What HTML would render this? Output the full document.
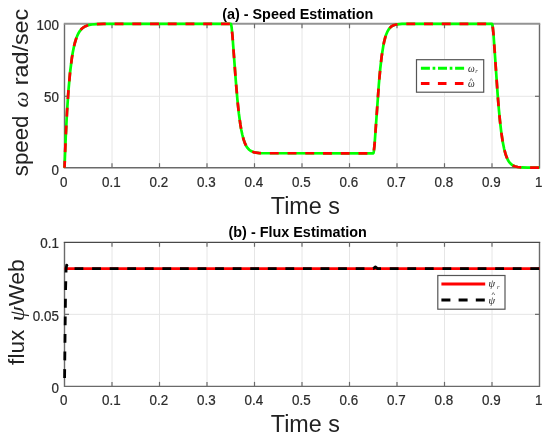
<!DOCTYPE html>
<html><head><meta charset="utf-8"><title>Speed and Flux Estimation</title>
<style>
html,body{margin:0;padding:0;background:#fff;}
body{width:550px;height:443px;overflow:hidden;}
svg{display:block;}
text{fill:#262626;font-family:'Liberation Sans', Arial, Helvetica, sans-serif;}
.tk{font-size:13.4px;fill:#2b2b2b;stroke:#2b2b2b;stroke-width:0.22px;}
.ti{font-size:14.4px;font-weight:bold;fill:#000;}
.lb{font-size:23.3px;fill:#222;}
.yl{font-size:22px;fill:#222;}
.gk{font-family:'Liberation Serif', 'DejaVu Serif', serif;font-style:italic;}
.lg{font-family:'Liberation Serif', 'DejaVu Serif', serif;font-style:italic;font-size:9.5px;fill:#222;}
.sub{font-family:'Liberation Serif', 'DejaVu Serif', serif;font-style:italic;font-size:6.5px;fill:#333;}
.psi{font-size:10.5px;fill:#111;}
.hat{font-family:'Liberation Sans',sans-serif;font-size:7.5px;fill:#333;}
</style></head>
<body>
<svg width="550" height="443" viewBox="0 0 550 443">
<rect width="550" height="443" fill="#fff"/>
<line x1="112.00" y1="23.80" x2="112.00" y2="167.70" stroke="#e6e6e6" stroke-width="1"/>
<line x1="159.50" y1="23.80" x2="159.50" y2="167.70" stroke="#e6e6e6" stroke-width="1"/>
<line x1="207.00" y1="23.80" x2="207.00" y2="167.70" stroke="#e6e6e6" stroke-width="1"/>
<line x1="254.50" y1="23.80" x2="254.50" y2="167.70" stroke="#e6e6e6" stroke-width="1"/>
<line x1="302.00" y1="23.80" x2="302.00" y2="167.70" stroke="#e6e6e6" stroke-width="1"/>
<line x1="349.50" y1="23.80" x2="349.50" y2="167.70" stroke="#e6e6e6" stroke-width="1"/>
<line x1="397.00" y1="23.80" x2="397.00" y2="167.70" stroke="#e6e6e6" stroke-width="1"/>
<line x1="444.50" y1="23.80" x2="444.50" y2="167.70" stroke="#e6e6e6" stroke-width="1"/>
<line x1="492.00" y1="23.80" x2="492.00" y2="167.70" stroke="#e6e6e6" stroke-width="1"/>
<line x1="64.50" y1="96.30" x2="539.50" y2="96.30" stroke="#e6e6e6" stroke-width="1"/>
<line x1="112.00" y1="242.30" x2="112.00" y2="386.40" stroke="#e6e6e6" stroke-width="1"/>
<line x1="159.50" y1="242.30" x2="159.50" y2="386.40" stroke="#e6e6e6" stroke-width="1"/>
<line x1="207.00" y1="242.30" x2="207.00" y2="386.40" stroke="#e6e6e6" stroke-width="1"/>
<line x1="254.50" y1="242.30" x2="254.50" y2="386.40" stroke="#e6e6e6" stroke-width="1"/>
<line x1="302.00" y1="242.30" x2="302.00" y2="386.40" stroke="#e6e6e6" stroke-width="1"/>
<line x1="349.50" y1="242.30" x2="349.50" y2="386.40" stroke="#e6e6e6" stroke-width="1"/>
<line x1="397.00" y1="242.30" x2="397.00" y2="386.40" stroke="#e6e6e6" stroke-width="1"/>
<line x1="444.50" y1="242.30" x2="444.50" y2="386.40" stroke="#e6e6e6" stroke-width="1"/>
<line x1="492.00" y1="242.30" x2="492.00" y2="386.40" stroke="#e6e6e6" stroke-width="1"/>
<line x1="64.50" y1="314.35" x2="539.50" y2="314.35" stroke="#e6e6e6" stroke-width="1"/>
<path d="M64.50,23.80 V167.70 H539.50 V23.80" fill="none" stroke="#6a6a6a" stroke-width="1.4"/>
<line x1="63.80" y1="23.80" x2="540.20" y2="23.80" stroke="#939393" stroke-width="2.0"/>
<line x1="112.00" y1="167.70" x2="112.00" y2="163.20" stroke="#6a6a6a" stroke-width="1.2"/>
<line x1="112.00" y1="23.80" x2="112.00" y2="28.30" stroke="#6a6a6a" stroke-width="1.2"/>
<line x1="159.50" y1="167.70" x2="159.50" y2="163.20" stroke="#6a6a6a" stroke-width="1.2"/>
<line x1="159.50" y1="23.80" x2="159.50" y2="28.30" stroke="#6a6a6a" stroke-width="1.2"/>
<line x1="207.00" y1="167.70" x2="207.00" y2="163.20" stroke="#6a6a6a" stroke-width="1.2"/>
<line x1="207.00" y1="23.80" x2="207.00" y2="28.30" stroke="#6a6a6a" stroke-width="1.2"/>
<line x1="254.50" y1="167.70" x2="254.50" y2="163.20" stroke="#6a6a6a" stroke-width="1.2"/>
<line x1="254.50" y1="23.80" x2="254.50" y2="28.30" stroke="#6a6a6a" stroke-width="1.2"/>
<line x1="302.00" y1="167.70" x2="302.00" y2="163.20" stroke="#6a6a6a" stroke-width="1.2"/>
<line x1="302.00" y1="23.80" x2="302.00" y2="28.30" stroke="#6a6a6a" stroke-width="1.2"/>
<line x1="349.50" y1="167.70" x2="349.50" y2="163.20" stroke="#6a6a6a" stroke-width="1.2"/>
<line x1="349.50" y1="23.80" x2="349.50" y2="28.30" stroke="#6a6a6a" stroke-width="1.2"/>
<line x1="397.00" y1="167.70" x2="397.00" y2="163.20" stroke="#6a6a6a" stroke-width="1.2"/>
<line x1="397.00" y1="23.80" x2="397.00" y2="28.30" stroke="#6a6a6a" stroke-width="1.2"/>
<line x1="444.50" y1="167.70" x2="444.50" y2="163.20" stroke="#6a6a6a" stroke-width="1.2"/>
<line x1="444.50" y1="23.80" x2="444.50" y2="28.30" stroke="#6a6a6a" stroke-width="1.2"/>
<line x1="492.00" y1="167.70" x2="492.00" y2="163.20" stroke="#6a6a6a" stroke-width="1.2"/>
<line x1="492.00" y1="23.80" x2="492.00" y2="28.30" stroke="#6a6a6a" stroke-width="1.2"/>
<line x1="64.50" y1="96.30" x2="69.00" y2="96.30" stroke="#6a6a6a" stroke-width="1.2"/>
<line x1="539.50" y1="96.30" x2="535.00" y2="96.30" stroke="#6a6a6a" stroke-width="1.2"/>
<path d="M64.50,242.30 V386.40 H539.50 V242.30" fill="none" stroke="#6a6a6a" stroke-width="1.4"/>
<line x1="63.80" y1="242.30" x2="540.20" y2="242.30" stroke="#484848" stroke-width="1.2"/>
<line x1="112.00" y1="386.40" x2="112.00" y2="381.90" stroke="#6a6a6a" stroke-width="1.2"/>
<line x1="112.00" y1="242.30" x2="112.00" y2="246.80" stroke="#6a6a6a" stroke-width="1.2"/>
<line x1="159.50" y1="386.40" x2="159.50" y2="381.90" stroke="#6a6a6a" stroke-width="1.2"/>
<line x1="159.50" y1="242.30" x2="159.50" y2="246.80" stroke="#6a6a6a" stroke-width="1.2"/>
<line x1="207.00" y1="386.40" x2="207.00" y2="381.90" stroke="#6a6a6a" stroke-width="1.2"/>
<line x1="207.00" y1="242.30" x2="207.00" y2="246.80" stroke="#6a6a6a" stroke-width="1.2"/>
<line x1="254.50" y1="386.40" x2="254.50" y2="381.90" stroke="#6a6a6a" stroke-width="1.2"/>
<line x1="254.50" y1="242.30" x2="254.50" y2="246.80" stroke="#6a6a6a" stroke-width="1.2"/>
<line x1="302.00" y1="386.40" x2="302.00" y2="381.90" stroke="#6a6a6a" stroke-width="1.2"/>
<line x1="302.00" y1="242.30" x2="302.00" y2="246.80" stroke="#6a6a6a" stroke-width="1.2"/>
<line x1="349.50" y1="386.40" x2="349.50" y2="381.90" stroke="#6a6a6a" stroke-width="1.2"/>
<line x1="349.50" y1="242.30" x2="349.50" y2="246.80" stroke="#6a6a6a" stroke-width="1.2"/>
<line x1="397.00" y1="386.40" x2="397.00" y2="381.90" stroke="#6a6a6a" stroke-width="1.2"/>
<line x1="397.00" y1="242.30" x2="397.00" y2="246.80" stroke="#6a6a6a" stroke-width="1.2"/>
<line x1="444.50" y1="386.40" x2="444.50" y2="381.90" stroke="#6a6a6a" stroke-width="1.2"/>
<line x1="444.50" y1="242.30" x2="444.50" y2="246.80" stroke="#6a6a6a" stroke-width="1.2"/>
<line x1="492.00" y1="386.40" x2="492.00" y2="381.90" stroke="#6a6a6a" stroke-width="1.2"/>
<line x1="492.00" y1="242.30" x2="492.00" y2="246.80" stroke="#6a6a6a" stroke-width="1.2"/>
<line x1="64.50" y1="314.35" x2="69.00" y2="314.35" stroke="#6a6a6a" stroke-width="1.2"/>
<line x1="539.50" y1="314.35" x2="535.00" y2="314.35" stroke="#6a6a6a" stroke-width="1.2"/>
<path d="M64.50,167.70 L65.69,137.96 L66.99,112.30 L68.42,90.84 L70.08,72.28 L71.86,58.06 L72.81,52.27 L73.76,47.45 L74.83,43.01 L76.02,39.04 L77.33,35.61 L78.63,32.96 L79.82,31.06 L81.01,29.56 L82.31,28.27 L83.86,27.11 L85.52,26.19 L87.30,25.49 L89.44,24.91 L91.81,24.50 L96.68,24.07 L103.81,23.87 L145.13,23.80 L230.87,23.88 L231.22,24.97 L231.58,27.14 L232.41,35.21 L235.74,80.15 L237.40,99.73 L238.82,113.20 L240.37,124.51 L241.32,129.99 L242.39,135.02 L243.57,139.43 L244.76,142.84 L246.07,145.67 L247.49,147.92 L249.16,149.74 L251.06,151.10 L253.31,152.07 L256.04,152.70 L259.49,153.06 L264.36,153.24 L373.25,153.31 L373.49,152.96 L373.84,151.26 L374.56,144.75 L378.83,84.50 L380.26,68.63 L381.68,56.25 L383.34,45.64 L384.29,41.09 L385.24,37.43 L386.31,34.17 L387.38,31.66 L388.57,29.55 L389.88,27.86 L390.83,26.94 L391.89,26.15 L393.08,25.50 L394.39,24.98 L397.59,24.28 L401.99,23.94 L413.27,23.81 L492.00,23.80 L492.36,24.53 L492.71,26.52 L493.54,34.71 L497.58,93.64 L498.77,108.46 L499.96,120.96 L501.26,132.13 L502.69,141.62 L504.11,148.77 L505.78,154.81 L506.61,157.10 L507.56,159.25 L508.51,160.98 L509.46,162.37 L510.52,163.60 L511.71,164.64 L513.02,165.50 L514.56,166.21 L517.65,167.02 L521.81,167.47 L527.74,167.65 L539.50,167.70" fill="none" stroke="#00ff00" stroke-width="2.7" stroke-linejoin="round"/>
<path d="M64.50,167.70 L65.69,137.96 L66.99,112.30 L68.42,90.84 L70.08,72.28 L71.86,58.06 L72.81,52.27 L73.76,47.45 L74.83,43.01 L76.02,39.04 L77.33,35.61 L78.63,32.96 L79.82,31.06 L81.01,29.56 L82.31,28.27 L83.86,27.11 L85.52,26.19 L87.30,25.49 L89.44,24.91 L91.81,24.50 L96.68,24.07 L103.81,23.87 L145.13,23.80 L230.87,23.88 L231.22,24.97 L231.58,27.14 L232.41,35.21 L235.74,80.15 L237.40,99.73 L238.82,113.20 L240.37,124.51 L241.32,129.99 L242.39,135.02 L243.57,139.43 L244.76,142.84 L246.07,145.67 L247.49,147.92 L249.16,149.74 L251.06,151.10 L253.31,152.07 L256.04,152.70 L259.49,153.06 L264.36,153.24 L373.25,153.31 L373.49,152.96 L373.84,151.26 L374.56,144.75 L378.83,84.50 L380.26,68.63 L381.68,56.25 L383.34,45.64 L384.29,41.09 L385.24,37.43 L386.31,34.17 L387.38,31.66 L388.57,29.55 L389.88,27.86 L390.83,26.94 L391.89,26.15 L393.08,25.50 L394.39,24.98 L397.59,24.28 L401.99,23.94 L413.27,23.81 L492.00,23.80 L492.36,24.53 L492.71,26.52 L493.54,34.71 L497.58,93.64 L498.77,108.46 L499.96,120.96 L501.26,132.13 L502.69,141.62 L504.11,148.77 L505.78,154.81 L506.61,157.10 L507.56,159.25 L508.51,160.98 L509.46,162.37 L510.52,163.60 L511.71,164.64 L513.02,165.50 L514.56,166.21 L517.65,167.02 L521.81,167.47 L527.74,167.65 L539.50,167.70" fill="none" stroke="#ff0000" stroke-width="2.7" stroke-dasharray="8.9 8.83" stroke-dashoffset="2.1" stroke-linejoin="round"/>
<path d="M64.50,268.53 L539.50,268.53" fill="none" stroke="#ff0000" stroke-width="2.7"/>
<path d="M64.50,386.40 L64.97,343.17 L65.55,291.29 L66.11,268.96 L66.69,265.07 L67.35,266.80 L68.30,268.53 L373.25,268.53 L375.39,266.94 L377.53,268.53 L539.50,268.53" fill="none" stroke="#000000" stroke-width="2.8" stroke-dasharray="8.8 8.77" stroke-dashoffset="9.10" stroke-linejoin="round"/>
<text transform="translate(63.80,186.70) scale(1,1.09)" text-anchor="middle" class="tk">0</text>
<text transform="translate(111.30,186.70) scale(1,1.09)" text-anchor="middle" class="tk">0.1</text>
<text transform="translate(158.80,186.70) scale(1,1.09)" text-anchor="middle" class="tk">0.2</text>
<text transform="translate(206.30,186.70) scale(1,1.09)" text-anchor="middle" class="tk">0.3</text>
<text transform="translate(253.80,186.70) scale(1,1.09)" text-anchor="middle" class="tk">0.4</text>
<text transform="translate(301.30,186.70) scale(1,1.09)" text-anchor="middle" class="tk">0.5</text>
<text transform="translate(348.80,186.70) scale(1,1.09)" text-anchor="middle" class="tk">0.6</text>
<text transform="translate(396.30,186.70) scale(1,1.09)" text-anchor="middle" class="tk">0.7</text>
<text transform="translate(443.80,186.70) scale(1,1.09)" text-anchor="middle" class="tk">0.8</text>
<text transform="translate(491.30,186.70) scale(1,1.09)" text-anchor="middle" class="tk">0.9</text>
<text transform="translate(538.80,186.70) scale(1,1.09)" text-anchor="middle" class="tk">1</text>
<text transform="translate(58.90,174.65) scale(1,1.09)" text-anchor="end" class="tk">0</text>
<text transform="translate(58.90,102.15) scale(1,1.09)" text-anchor="end" class="tk">50</text>
<text transform="translate(58.90,30.05) scale(1,1.09)" text-anchor="end" class="tk">100</text>
<text transform="translate(63.80,405.40) scale(1,1.09)" text-anchor="middle" class="tk">0</text>
<text transform="translate(111.30,405.40) scale(1,1.09)" text-anchor="middle" class="tk">0.1</text>
<text transform="translate(158.80,405.40) scale(1,1.09)" text-anchor="middle" class="tk">0.2</text>
<text transform="translate(206.30,405.40) scale(1,1.09)" text-anchor="middle" class="tk">0.3</text>
<text transform="translate(253.80,405.40) scale(1,1.09)" text-anchor="middle" class="tk">0.4</text>
<text transform="translate(301.30,405.40) scale(1,1.09)" text-anchor="middle" class="tk">0.5</text>
<text transform="translate(348.80,405.40) scale(1,1.09)" text-anchor="middle" class="tk">0.6</text>
<text transform="translate(396.30,405.40) scale(1,1.09)" text-anchor="middle" class="tk">0.7</text>
<text transform="translate(443.80,405.40) scale(1,1.09)" text-anchor="middle" class="tk">0.8</text>
<text transform="translate(491.30,405.40) scale(1,1.09)" text-anchor="middle" class="tk">0.9</text>
<text transform="translate(538.80,405.40) scale(1,1.09)" text-anchor="middle" class="tk">1</text>
<text transform="translate(58.90,393.05) scale(1,1.09)" text-anchor="end" class="tk">0</text>
<text transform="translate(58.90,320.65) scale(1,1.09)" text-anchor="end" class="tk">0.05</text>
<text transform="translate(58.90,248.35) scale(1,1.09)" text-anchor="end" class="tk">0.1</text>
<text x="297.7" y="18.5" text-anchor="middle" class="ti">(a) - Speed Estimation</text>
<text x="297.7" y="236.6" text-anchor="middle" class="ti">(b) - Flux Estimation</text>
<text x="305.3" y="214.1" text-anchor="middle" class="lb">Time s</text>
<text x="305.3" y="432.1" text-anchor="middle" class="lb">Time s</text>
<text transform="translate(27.60,176.20) rotate(-90)" class="yl" textLength="60.60" lengthAdjust="spacingAndGlyphs">speed</text>
<text transform="translate(27.60,107.60) rotate(-90)" class="yl gk" textLength="16.00" lengthAdjust="spacingAndGlyphs">ω</text>
<text transform="translate(27.60,85.30) rotate(-90)" class="yl" textLength="76.50" lengthAdjust="spacingAndGlyphs">rad/sec</text>
<text transform="translate(23.80,364.90) rotate(-90)" class="yl" textLength="35.20" lengthAdjust="spacingAndGlyphs">flux</text>
<text transform="translate(23.80,321.20) rotate(-90)" class="yl gk" textLength="15.00" lengthAdjust="spacingAndGlyphs">ψ</text>
<text transform="translate(23.80,306.00) rotate(-90)" class="yl" textLength="46.80" lengthAdjust="spacingAndGlyphs">Web</text>
<rect x="416.50" y="59.70" width="67.20" height="32.50" fill="#fff" stroke="#555" stroke-width="1.2"/>
<line x1="420.9" y1="68.2" x2="465" y2="68.2" stroke="#00ff00" stroke-width="3" stroke-dasharray="9 2.7 2.7 2.7"/>
<line x1="420.9" y1="83.6" x2="465" y2="83.6" stroke="#ff0000" stroke-width="3" stroke-dasharray="8.6 8.4"/>
<text x="468.0" y="71.9" class="lg">ω</text><text x="475.2" y="72.6" class="sub">r</text>
<text x="468.0" y="86.8" class="lg">ω</text><text x="469.4" y="82.6" class="hat">^</text>
<rect x="437.80" y="275.50" width="67.20" height="33.70" fill="#fff" stroke="#555" stroke-width="1.2"/>
<line x1="441.4" y1="283.9" x2="485.2" y2="283.9" stroke="#ff0000" stroke-width="3"/>
<line x1="441.4" y1="300" x2="485.2" y2="300" stroke="#000" stroke-width="3" stroke-dasharray="9 8.2"/>
<text x="488.6" y="287.3" class="lg psi">ψ</text><text x="496.9" y="288.9" class="sub">r</text>
<text x="488.6" y="303.6" class="lg psi">ψ</text><text x="491.6" y="297.4" class="hat">^</text>
</svg>
</body></html>
